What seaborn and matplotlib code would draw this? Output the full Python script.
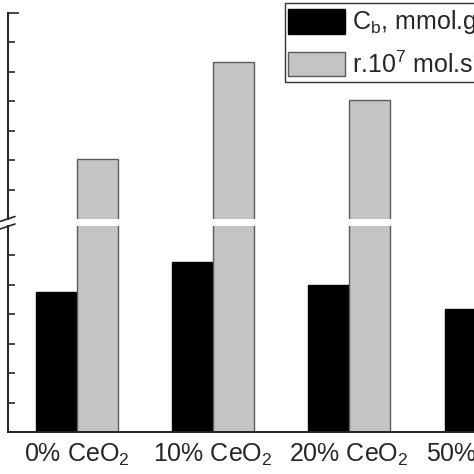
import matplotlib
matplotlib.use("Agg")
import matplotlib.pyplot as plt
from matplotlib.lines import Line2D
from matplotlib.patches import Patch
import seaborn as sns
import pandas as pd

categories = ["0% CeO$_2$", "10% CeO$_2$", "20% CeO$_2$", "50% CeO$_2$"]
cb_values = [4.76, 5.78, 5.0, 4.18]        # C_b, mmol/g (lower part of broken axis)
rate_values = [12.04, 15.34, 14.05, 13.0]  # r.10^7 (upper part)
series = ["C$_\\mathrm{b}$, mmol.g$^{-1}$", "r.10$^7$ mol.s$^{-1}$.g$^{-1}$"]
colors = ["#000000", "#c4c4c4"]
edges = ["#000000", "#5a5a5a"]

df = pd.DataFrame({
    "cat": categories * 2,
    "value": cb_values + rate_values,
    "series": [series[0]] * 4 + [series[1]] * 4,
})

sns.set_style("white")
plt.rcParams["font.family"] = ["Liberation Sans", "DejaVu Sans"]
plt.rcParams["mathtext.fontset"] = "custom"
plt.rcParams["mathtext.rm"] = "Liberation Sans"
plt.rcParams["mathtext.it"] = "Liberation Sans:italic"

fig = plt.figure(figsize=(4.74, 4.74), dpi=100)
W = H = 474.0
left = 7.5 / W
width = 546 / W
ax_low = fig.add_axes([left, (H - 432) / H, width, (432 - 226) / H])
ax_top = fig.add_axes([left, (H - 219) / H, width, (219 - 13) / H])

for ax in (ax_low, ax_top):
    sns.barplot(data=df, x="cat", y="value", hue="series", palette=colors,
                width=0.6, saturation=1, ax=ax, legend=False)
    for cont, ec in zip(ax.containers, edges):
        for bar in cont:
            bar.set_edgecolor(ec)
            bar.set_linewidth(1.0)
    ax.set_xlim(-0.509, 3.5)
    ax.set_xlabel("")
    ax.set_ylabel("")
    for s in ("top", "right"):
        ax.spines[s].set_visible(False)
    ax.spines["left"].set_linewidth(1.4)
    ax.spines["left"].set_color("#222222")

ax_low.set_ylim(0, 7)
ax_low.set_yticks([1, 2, 3, 4, 5, 6])
ax_low.spines["bottom"].set_linewidth(1.4)
ax_low.spines["bottom"].set_color("#222222")
ax_low.tick_params(axis="y", direction="in", length=5, width=1.2, labelleft=False, left=True)
ax_low.tick_params(axis="x", length=0, labelsize=18, pad=7)

ax_top.set_ylim(10, 17)
ax_top.set_yticks([17])
ax_top.set_yticks([11, 12, 13, 14, 15, 16], minor=True)
ax_top.spines["bottom"].set_visible(False)
ax_top.tick_params(axis="y", which="major", direction="in", length=8, width=1.2, labelleft=False, left=True)
ax_top.tick_params(axis="y", which="minor", direction="in", length=5, width=1.2, left=True)
ax_top.tick_params(axis="x", length=0, labelbottom=False)

# break marks on the y axis
for y0 in (221.5, 229):
    fig.add_artist(Line2D([0 / W, 15 / W], [(H - y0) / H, (H - y0 + 5) / H],
                          color="#222222", lw=1.2, transform=fig.transFigure))

handles = [Patch(facecolor=c, edgecolor=e, lw=1) for c, e in zip(colors, edges)]
leg = ax_top.legend(handles, series, loc="upper left",
                    bbox_to_anchor=(285 / W, 1 - 3 / H), bbox_transform=fig.transFigure,
                    fontsize=18, handlelength=2.3, handleheight=1.15, handletextpad=0.3,
                    borderpad=0.1, borderaxespad=0, labelspacing=0.45, fancybox=False,
                    framealpha=1, edgecolor="#333333")
leg.get_frame().set_linewidth(1.0)

fig.savefig("out.png", dpi=100)
